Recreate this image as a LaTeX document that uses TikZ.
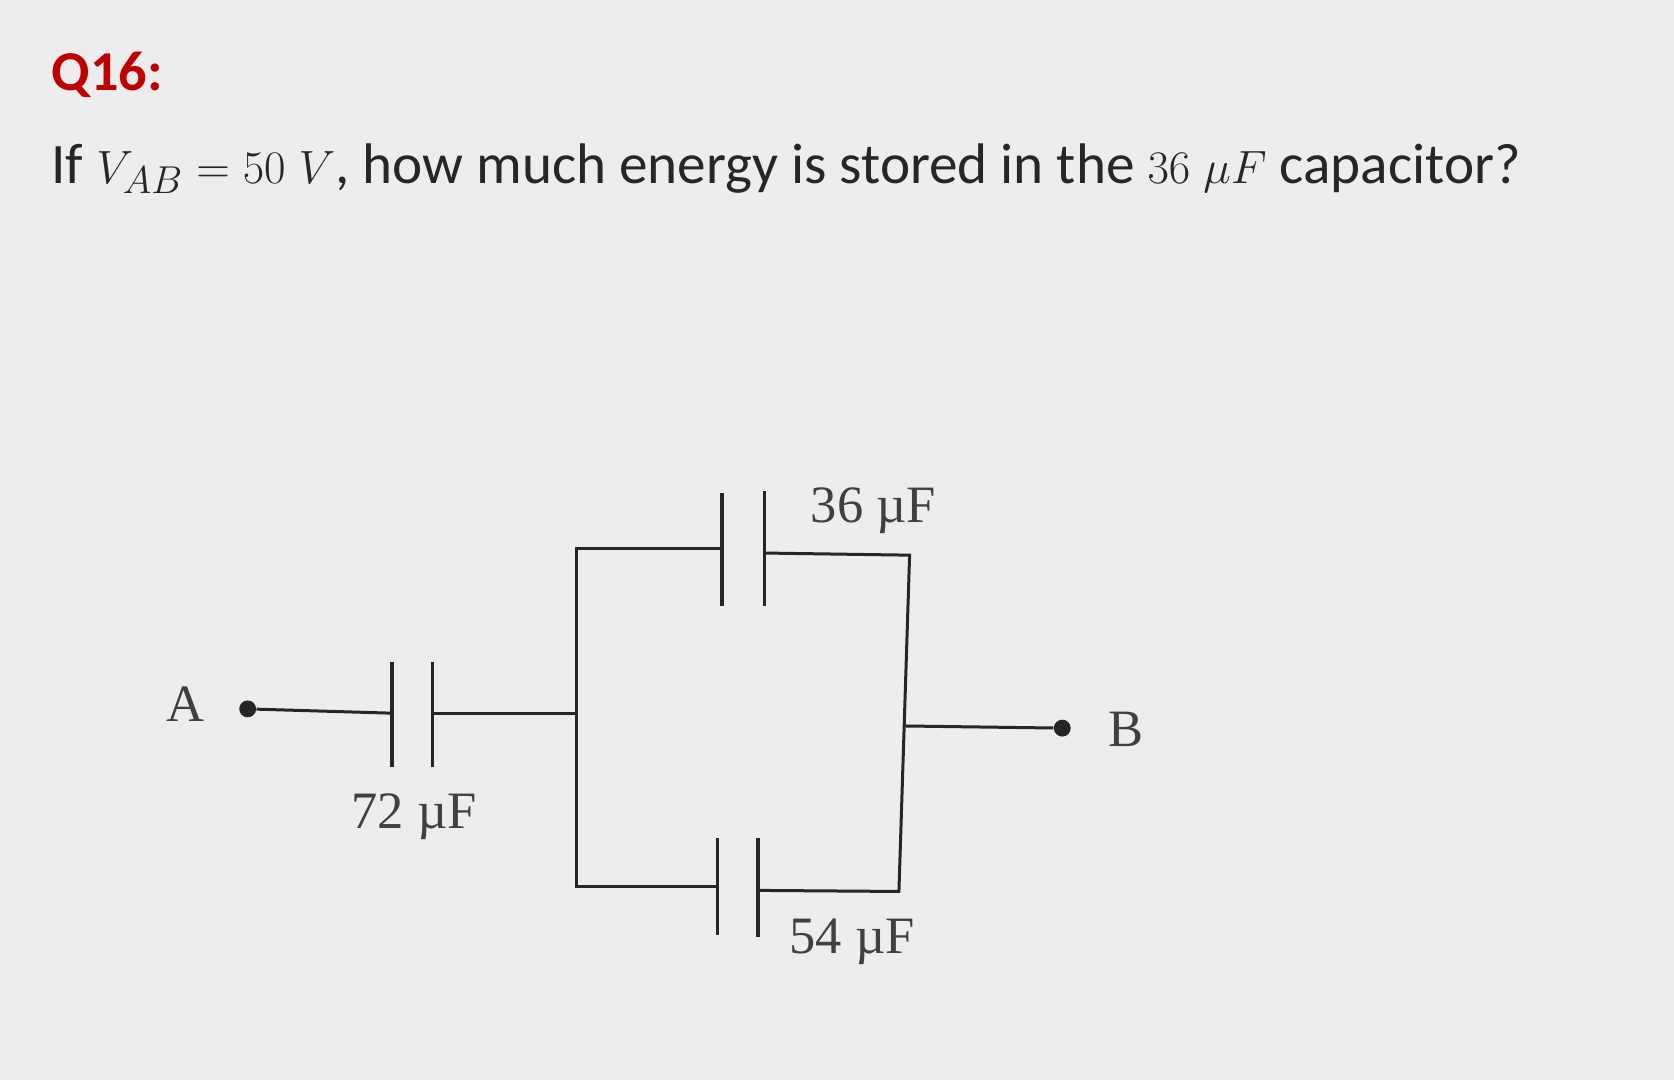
\documentclass[tikz,border=0pt]{standalone}
\usepackage{fontspec}
\setmainfont{Carlito}
\newfontfamily\ser{Liberation Serif}
\begin{document}
\begin{tikzpicture}[x=0.02cm,y=-0.02cm,
  wire/.style={line width=1.6pt,black!85},
  plate/.style={line width=2pt,black!85},
  lab/.style={font=\ser\fontsize{28}{28}\selectfont,text=black!75},
  term/.style={circle,fill=black!85,inner sep=0pt,minimum size=9pt}]
\fill[gray!14] (0,0) rectangle (1568,1012);
\useasboundingbox (0,0) rectangle (1568,1012);
\node[anchor=west,font=\bfseries\fontsize{30}{30}\selectfont,text=red!75!black] (q) at (42,70) {Q16:};
\node[anchor=west,font=\fontsize{30.5}{30.5}\selectfont,text=black!85] (t) at (42,158)
 {If $V_{AB}=50\ V$, how much energy is stored in the $36\ \mu F$ capacitor?};
% nodes
\node[term] (A) at (232,664) {};
\node[lab,anchor=east] (Al) at (198,660) {A};
\node[term] (B) at (995,682) {};
\node[lab,anchor=west] (Bl) at (1032,683) {B};
\coordinate (c1a) at (367,668); \coordinate (c1b) at (405,668);
\coordinate (n1) at (540,668);
\coordinate (lt) at (540,514); \coordinate (lb) at (540,830);
\coordinate (c2a) at (676,514); \coordinate (c2b) at (716,518);
\coordinate (rt) at (852,520); \coordinate (rb) at (842,835);
\coordinate (c3a) at (672,830); \coordinate (c3b) at (710,834);
\coordinate (n2) at (848,680);
\draw[wire] (A) -- (c1a);
\draw[plate] (367,620) -- (367,718);
\draw[plate] (405,620) -- (405,718);
\draw[wire] (c1b) -- (n1);
\draw[wire] (c2a) -- (lt) -- (lb) -- (c3a);
\draw[plate] (676,462) -- (676,568);
\draw[plate] (716,460) -- (716,568);
\draw[wire] (c2b) -- (rt) -- (rb) -- (c3b);
\draw[plate] (672,785) -- (672,876);
\draw[plate] (710,785) -- (710,878);
\draw[wire] (n2) -- (B);
\node[lab] (l36) at (818,478) {36 µF};
\node[lab] (l72) at (388,765) {72 µF};
\node[lab] (l54) at (798,882) {54 µF};
\end{tikzpicture}
\end{document}
